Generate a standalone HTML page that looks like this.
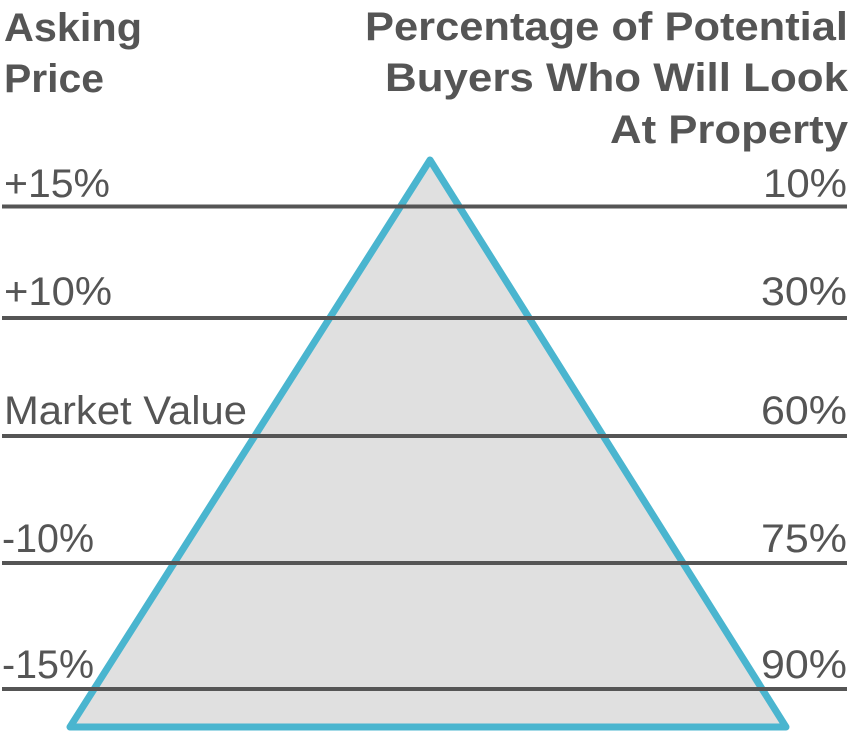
<!DOCTYPE html>
<html><head><style>html,body{margin:0;padding:0;background:#fff;}svg{display:block}</style></head>
<body>
<svg width="854" height="740" viewBox="0 0 854 740" xmlns="http://www.w3.org/2000/svg">
<polygon points="430,160 70,727 786,727" fill="#e0e0e0" stroke="#4ab5cf" stroke-width="7" stroke-linejoin="round"/>
<g stroke="#555" stroke-width="4">
<line x1="2" y1="206.5" x2="847" y2="206.5"/>
<line x1="2" y1="318" x2="847" y2="318"/>
<line x1="2" y1="436" x2="847" y2="436"/>
<line x1="2" y1="563" x2="847" y2="563"/>
<line x1="2" y1="689" x2="847" y2="689"/>
</g>
<g font-family="Liberation Sans, sans-serif" fill="#555" font-size="40">
<g font-weight="bold">
<text x="4" y="41" textLength="138" lengthAdjust="spacingAndGlyphs">Asking</text>
<text x="4" y="92" textLength="100" lengthAdjust="spacingAndGlyphs">Price</text>
<text x="848" y="40" text-anchor="end" textLength="483" lengthAdjust="spacingAndGlyphs">Percentage of Potential</text>
<text x="848" y="91" text-anchor="end" textLength="463" lengthAdjust="spacingAndGlyphs">Buyers Who Will Look</text>
<text x="848" y="143" text-anchor="end" textLength="238" lengthAdjust="spacingAndGlyphs">At Property</text>
</g>
<text x="4" y="197" textLength="106" lengthAdjust="spacingAndGlyphs">+15%</text>
<text x="4" y="305" textLength="108" lengthAdjust="spacingAndGlyphs">+10%</text>
<text x="4" y="424" textLength="243" lengthAdjust="spacingAndGlyphs">Market Value</text>
<text x="2" y="552" textLength="92" lengthAdjust="spacingAndGlyphs">-10%</text>
<text x="2" y="678" textLength="92" lengthAdjust="spacingAndGlyphs">-15%</text>
<text x="847" y="197" text-anchor="end" textLength="84" lengthAdjust="spacingAndGlyphs">10%</text>
<text x="847" y="305" text-anchor="end" textLength="86" lengthAdjust="spacingAndGlyphs">30%</text>
<text x="847" y="424" text-anchor="end" textLength="86" lengthAdjust="spacingAndGlyphs">60%</text>
<text x="847" y="552" text-anchor="end" textLength="86" lengthAdjust="spacingAndGlyphs">75%</text>
<text x="847" y="678" text-anchor="end" textLength="86" lengthAdjust="spacingAndGlyphs">90%</text>
</g>
</svg>
</body></html>
